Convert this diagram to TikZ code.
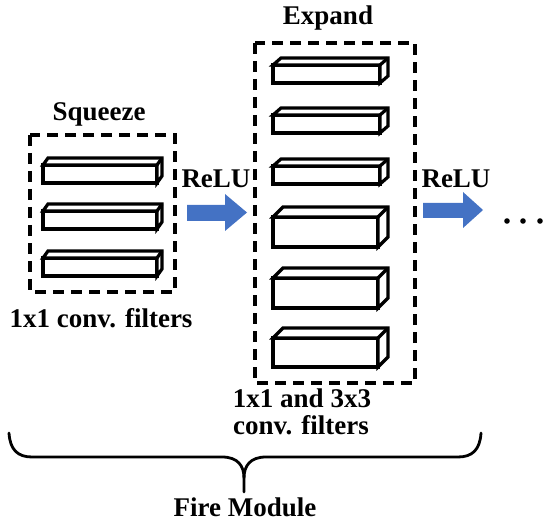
\documentclass[tikz,border=0pt]{standalone}
\usepackage{fontspec}
\setmainfont{Liberation Serif}
\usetikzlibrary{calc}
\definecolor{arrowblue}{HTML}{4472C4}
\newcommand\cubd[6]{%
  \filldraw[cubline] (#1,#2) rectangle (#3,#4);
  \filldraw[cubline] (#1,#2) -- (#1+#5,#2-#6) -- (#3+#5,#2-#6) -- (#3+#5,#4-#6) -- (#3,#4) -- (#3,#2) -- cycle;
  \draw[cubline] (#3+#5,#2-#6) -- (#3,#2);
}
% arrow: left x, shaft top, shaft bottom, head base x, head top, head bottom, tip x
\newcommand\bluearr[7]{%
  \fill[arrowblue] (#1,#2) -- (#4,#2) -- (#4,#5) -- (#7,{(#5+#6)/2}) -- (#4,#6) -- (#4,#3) -- (#1,#3) -- cycle;
}
\begin{document}
\begin{tikzpicture}[x=1pt,y=-1pt,
  cubline/.style={draw=black,fill=white,line width=3.2pt,line join=miter},
  dashbox/.style={draw=black,line width=3.2pt,dash pattern=on 11pt off 7pt},
  lbl/.style={font=\fontsize{27}{32}\selectfont\bfseries,inner sep=0pt,anchor=base},
]
\useasboundingbox (0,0) rectangle (550,527);
% squeeze
\draw[dashbox] (30,135) rectangle (175,292);
\node[lbl] (sq) at (99,121) {Squeeze};
\cubd{43}{165}{157}{183}{5}{7}
\cubd{43}{211}{157}{229}{5}{7}
\cubd{43}{258}{157}{276}{5}{7}
\node[lbl] (sqf) at (101,327) {1x1 conv. filters};
% expand
\draw[dashbox] (255,43) rectangle (415,383);
\node[lbl] (ex) at (328,25) {Expand};
\cubd{273}{65}{380}{83}{8}{7}
\cubd{273}{115}{380}{133}{8}{7}
\cubd{273}{166}{380}{184}{8}{7}
\cubd{273}{217}{378}{247}{10}{10}
\cubd{273}{278}{378}{308}{10}{10}
\cubd{273}{338}{378}{367}{10}{10}
\node[lbl] (exf1) at (302,407) {1x1 and 3x3};
\node[lbl] (exf2) at (301,434) {conv. filters};
% relu arrows
\node[lbl] (r1) at (216,187) {ReLU};
\bluearr{187}{205}{221}{225}{194}{231}{247}
\node[lbl] (r2) at (456,187) {ReLU};
\bluearr{423}{203}{218}{463}{192}{228}{483}
% dots
\foreach \x [count=\i] in {507,523,540} \fill (\x,221) circle (2.8pt) coordinate (d\i);
% brace
\draw[line width=2.8pt,line cap=round] (9,433) .. controls (10,450) and (18,457) .. (32,457)
  -- (222,457) .. controls (238,457) and (244,466) .. (244,478) -- (244,492);
\draw[line width=2.8pt,line cap=round] (481,433) .. controls (480,450) and (472,457) .. (458,457)
  -- (266,457) .. controls (250,457) and (244,466) .. (244,478);
\node[lbl] (fm) at (245,516) {Fire Module};
\end{tikzpicture}
\end{document}
